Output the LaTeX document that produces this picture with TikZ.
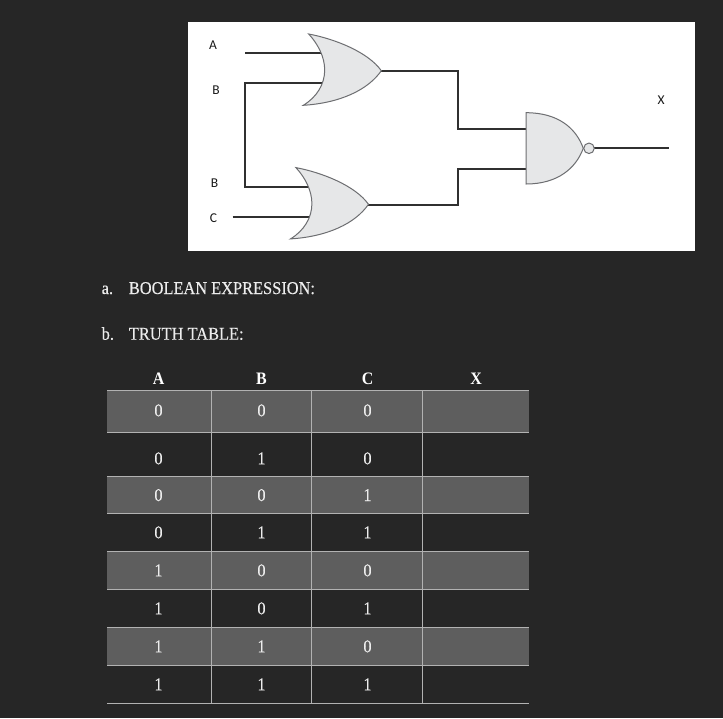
\documentclass[tikz,border=0pt]{standalone}
\usepackage{fontspec}
\setmainfont[FakeStretch=0.91,UprightFeatures={FakeBold=0.25}]{Liberation Serif}
\newfontfamily\labelfont{Carlito}
\definecolor{pagebg}{HTML}{262626}
\definecolor{rowbg}{HTML}{5E5E5E}
\definecolor{rule}{HTML}{B2B2B2}
\definecolor{inktext}{HTML}{EDEDED}
\definecolor{gatefill}{HTML}{E6E7E8}
\definecolor{gateedge}{HTML}{6D6E71}
\definecolor{wirecol}{HTML}{303030}
\tikzset{
  x=1pt,y=-1pt,
  wire/.style={draw=wirecol,line width=2pt,line join=miter},
  gate/.style={draw=gateedge,fill=gatefill,line width=1pt,line join=miter},
  siglabel/.style={inner sep=0pt,text=black!90,font=\labelfont\fontsize{13.5}{14}\selectfont},
  bodytext/.style={inner sep=0pt,anchor=base west,text=inktext,font=\fontsize{18}{20}\selectfont},
  cell/.style={inner sep=0pt,anchor=base,text=inktext,font=\fontsize{18}{20}\selectfont},
  headcell/.style={cell,text=white,font=\fontsize{17.5}{20}\selectfont\bfseries},
  gridline/.style={draw=rule,line width=0.9pt},
  orgate/.pic={
    \path[gate] (308.7,34) .. controls (335,39) and (368,52) .. (381.3,70.7)
      .. controls (368,90) and (340,103) .. (303.3,105.3)
      .. controls (317,97) and (324.7,84) .. (324.7,70)
      .. controls (324.7,57) and (318,44) .. (308.7,34) -- cycle;
  }
}
\begin{document}
\begin{tikzpicture}
\useasboundingbox (0,0) rectangle (723,718);
\fill[pagebg] (0,0) rectangle (723,718);
\fill[white] (188,22) rectangle (695,250.5);

% signal labels
\node[siglabel] (la)  at (213,45.5) {A};
\node[siglabel] (lb1) at (216,90) {B};
\node[siglabel] (lb2) at (214.5,183.5) {B};
\node[siglabel] (lc)  at (213.5,218.5) {C};
\node[siglabel] (lx)  at (661,100) {X};

% wire end points
\coordinate (astart) at (245.3,53.3);
\coordinate (g1a) at (323.5,53.3);
\coordinate (bcorner) at (245.3,83);
\coordinate (g1b) at (323.5,83);
\coordinate (bcorner2) at (245.3,186.7);
\coordinate (g2b) at (310.5,186.7);
\coordinate (cstart) at (232.7,216.7);
\coordinate (g2c) at (310.5,216.7);
\coordinate (g1out) at (381,70.7);
\coordinate (g2out) at (368.4,205);
\coordinate (j1a) at (458,70.7);
\coordinate (j1b) at (458,128.7);
\coordinate (n1) at (526.5,128.7);
\coordinate (j2a) at (458,205);
\coordinate (j2b) at (458,169.3);
\coordinate (n2) at (526.5,169.3);
\coordinate (nout) at (594,148.3);
\coordinate (xend) at (669,148.3);

% wires
\draw[wire] (astart) -- (g1a);
\draw[wire] (g1b) -- (bcorner) -- (bcorner2) -- (g2b);
\draw[wire] (cstart) -- (g2c);
\draw[wire] (g1out) -- (j1a) -- (j1b) -- (n1);
\draw[wire] (g2out) -- (j2a) -- (j2b) -- (n2);
\draw[wire] (nout) -- (xend);

% gates
\pic at (0,0) {orgate};
\pic at (-12.8,133.6) {orgate};
\path[gate] (526,112.7) .. controls (558,112.7) and (576,128) .. (583.3,148.3)
  .. controls (576,168) and (558,184) .. (526,184) -- cycle;
\node[circle,gate,inner sep=0pt,minimum size=10.5pt] (bubble) at (589,148.3) {};

% list
\node[bodytext] (ma) at (101.5,294) {a.};
\node[bodytext] (ta) at (128.7,294) {BOOLEAN EXPRESSION:};
\node[bodytext] (mb) at (101.5,339.7) {b.};
\node[bodytext] (tb) at (128.7,339.7) {TRUTH TABLE:};

% table shading
\fill[rowbg] (107,391) rectangle (529,432.3);
\fill[rowbg] (107,476.7) rectangle (529,513.3);
\fill[rowbg] (107,551) rectangle (529,589.3);
\fill[rowbg] (107,627.3) rectangle (529,665.3);

% table rules
\draw[gridline,line width=1.3pt] (107,390.7) -- (529,390.7);
\foreach \yy in {432.3,476.7,513.3,551,589.3,627.3,665.3,703}
  \draw[gridline] (107,\yy) -- (529,\yy);
\foreach \xx in {211.4,311.4,422.3}
  \draw[gridline] (\xx,390.7) -- (\xx,703);

% table head
\node[headcell] (ha) at (158.5,384) {A};
\node[headcell] (hb) at (261.5,384) {B};
\node[headcell] (hc) at (367.5,384) {C};
\node[headcell] (hx) at (476,384) {X};

% table body
\foreach \i/\yy/\pa/\pb/\pc in {
  1/416.3/0/0/0, 2/464.3/0/1/0, 3/501/0/0/1, 4/538.3/0/1/1,
  5/576.3/1/0/0, 6/614.3/1/0/1, 7/652.3/1/1/0, 8/690.3/1/1/1}{
  \node[cell] (ra\i) at (158.5,\yy) {\pa};
  \node[cell] (rb\i) at (261.5,\yy) {\pb};
  \node[cell] (rc\i) at (367.5,\yy) {\pc};
}
\end{tikzpicture}
\end{document}
